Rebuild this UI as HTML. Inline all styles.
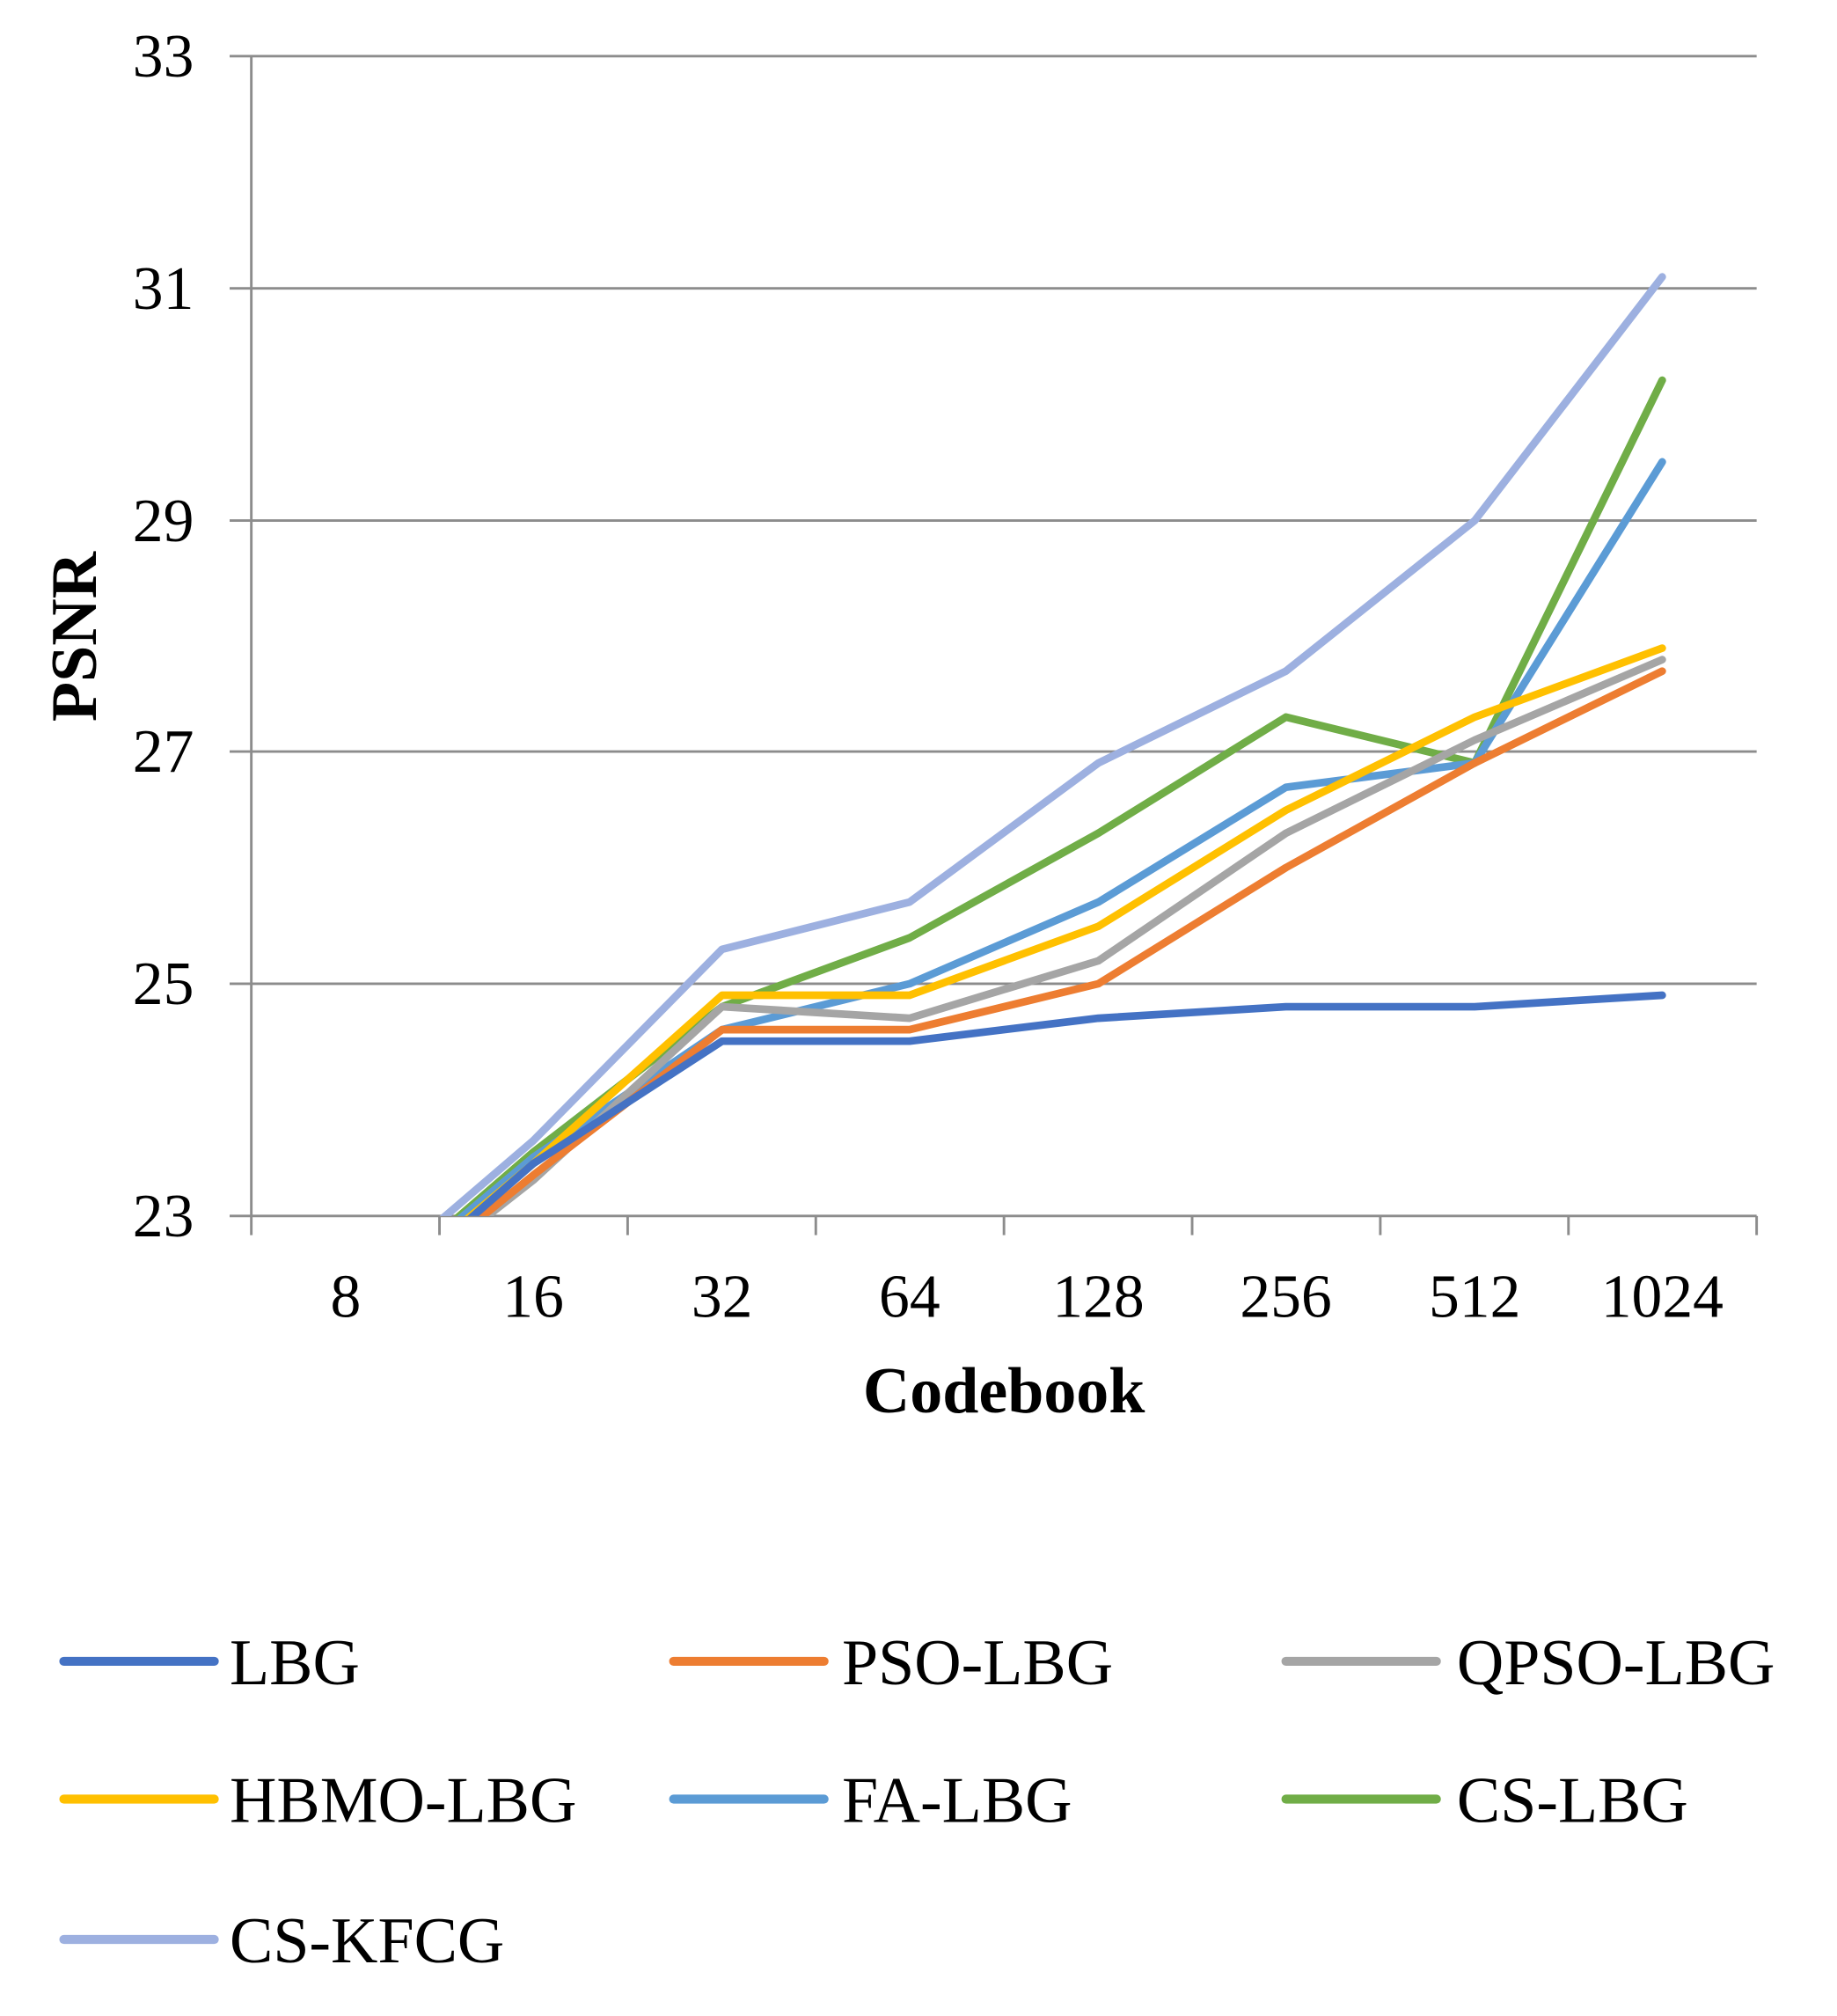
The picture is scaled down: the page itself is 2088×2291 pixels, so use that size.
<!DOCTYPE html>
<html><head><meta charset="utf-8"><style>html,body{margin:0;padding:0;background:#fff}svg{display:block}</style></head>
<body>
<svg width="2088" height="2291" viewBox="0 0 1440 1580" xmlns="http://www.w3.org/2000/svg" font-family="Liberation Serif, serif">
<defs><clipPath id="c"><rect x="197" y="30" width="1180" height="923"/></clipPath></defs>
<g stroke="#8c8c8c" stroke-width="2">
<line x1="180" y1="44" x2="1377" y2="44"/>
<line x1="180" y1="226" x2="1377" y2="226"/>
<line x1="180" y1="408" x2="1377" y2="408"/>
<line x1="180" y1="589" x2="1377" y2="589"/>
<line x1="180" y1="771" x2="1377" y2="771"/>
<line x1="180" y1="953" x2="1377" y2="953"/>
<line x1="197" y1="44" x2="197" y2="968"/>
<line x1="344.5" y1="953" x2="344.5" y2="968"/>
<line x1="492" y1="953" x2="492" y2="968"/>
<line x1="639.5" y1="953" x2="639.5" y2="968"/>
<line x1="787" y1="953" x2="787" y2="968"/>
<line x1="934.5" y1="953" x2="934.5" y2="968"/>
<line x1="1082" y1="953" x2="1082" y2="968"/>
<line x1="1229.5" y1="953" x2="1229.5" y2="968"/>
<line x1="1377" y1="953" x2="1377" y2="968"/>
</g>
<g font-size="48" text-anchor="end" fill="#000">
<text x="152" y="60">33</text><text x="152" y="242">31</text><text x="152" y="424">29</text>
<text x="152" y="605">27</text><text x="152" y="787">25</text><text x="152" y="969">23</text>
</g>
<g font-size="48" text-anchor="middle" fill="#000">
<text x="271" y="1032">8</text><text x="418" y="1032">16</text><text x="566" y="1032">32</text><text x="713" y="1032">64</text>
<text x="861" y="1032">128</text><text x="1008" y="1032">256</text><text x="1156" y="1032">512</text><text x="1303" y="1032">1024</text>
</g>
<text x="787" y="1107" font-size="51" font-weight="bold" text-anchor="middle">Codebook</text>
<text transform="translate(75,499) rotate(-90)" font-size="51" font-weight="bold" text-anchor="middle">PSNR</text>
<g clip-path="url(#c)" fill="none" stroke-width="6" stroke-linejoin="round" stroke-linecap="round">
<polyline stroke="#9DB0E0" points="271,1020 418,894 566,744 713,707 861,598 1008,526 1156,408 1303,217"/>
<polyline stroke="#70AD47" points="271,1030 418,903 566,789 713,735 861,653 1008,562 1156,598 1303,298"/>
<polyline stroke="#5B9BD5" points="271,1030 418,907 566,807 713,771 861,707 1008,617 1156,598 1303,362"/>
<polyline stroke="#FFC000" points="271,1035 418,912 566,780 713,780 861,726 1008,635 1156,562 1303,508"/>
<polyline stroke="#A5A5A5" points="271,1040 418,925 566,789 713,798 861,753 1008,653 1156,580 1303,517"/>
<polyline stroke="#ED7D31" points="271,1040 418,921 566,807 713,807 861,771 1008,680 1156,598 1303,526"/>
<polyline stroke="#4472C4" points="271,1040 418,912 566,816 713,816 861,798 1008,789 1156,789 1303,780"/>
</g>
<g stroke-width="7" stroke-linecap="round">
<line x1="50" y1="1302" x2="168" y2="1302" stroke="#4472C4"/>
<line x1="528" y1="1302" x2="646" y2="1302" stroke="#ED7D31"/>
<line x1="1008" y1="1302" x2="1126" y2="1302" stroke="#A5A5A5"/>
<line x1="50" y1="1410" x2="168" y2="1410" stroke="#FFC000"/>
<line x1="528" y1="1410" x2="646" y2="1410" stroke="#5B9BD5"/>
<line x1="1008" y1="1410" x2="1126" y2="1410" stroke="#70AD47"/>
<line x1="50" y1="1520" x2="168" y2="1520" stroke="#9DB0E0"/>
</g>
<g font-size="51" fill="#000">
<text x="180" y="1320">LBG</text><text x="660" y="1320">PSO-LBG</text><text x="1142" y="1320">QPSO-LBG</text>
<text x="180" y="1428">HBMO-LBG</text><text x="660" y="1428">FA-LBG</text><text x="1142" y="1428">CS-LBG</text>
<text x="180" y="1538">CS-KFCG</text>
</g>
</svg>
</body></html>
